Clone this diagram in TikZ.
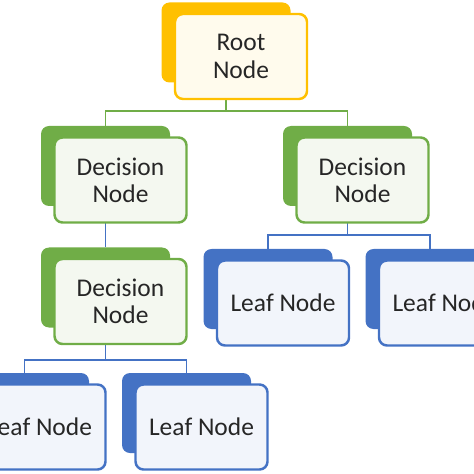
\documentclass[tikz,border=0pt]{standalone}
\usepackage{fontspec}
\setmainfont{Carlito}
\usepackage{tikz}
\usetikzlibrary{positioning}
\usetikzlibrary{backgrounds}

\definecolor{gold}{HTML}{FFC000}
\definecolor{leafgreen}{HTML}{70AD47}
\definecolor{leafblue}{HTML}{4472C4}
\definecolor{txtgray}{HTML}{262626}

\begin{document}
\begin{tikzpicture}[
    back/.style={
        rectangle,
        rounded corners=0.16cm,
        minimum width={2.58cm},
        minimum height={1.6cm},
        inner sep=0pt
    },
    front/.style={
        rectangle,
        rounded corners=0.16cm,
        line width=1.4pt,
        minimum width={2.64cm},
        minimum height={1.7cm},
        align=center,
        text=txtgray,
        font=\fontsize{14.5}{15.5}\selectfont
    },
    link/.style={line width=1.1pt}
]
\useasboundingbox (0,0) rectangle (9.48,-9.48);

\node [back, fill=gold] (r0) at (4.52, -0.85) {};
\node [front, draw=gold, fill=gold!7] (root) at ([xshift=0.3cm,yshift=-0.28cm]r0.center) {Root\\Node};

\node [back, fill=leafgreen] (dl0) at (2.11, -3.32) {};
\node [front, draw=leafgreen, fill=leafgreen!8] (decl) at ([xshift=0.3cm,yshift=-0.28cm]dl0.center) {Decision\\Node};
\node [back, fill=leafgreen] (dr0) at (6.95, -3.32) {};
\node [front, draw=leafgreen, fill=leafgreen!8] (decr) at ([xshift=0.3cm,yshift=-0.28cm]dr0.center) {Decision\\Node};
\node [back, fill=leafgreen] (dd0) at (2.11, -5.75) {};
\node [front, draw=leafgreen, fill=leafgreen!8] (decd) at ([xshift=0.3cm,yshift=-0.28cm]dd0.center) {Decision\\Node};

\node [back, fill=leafblue] (lr1) at (5.36, -5.78) {};
\node [front, draw=leafblue, fill=leafblue!7] (leafr1) at ([xshift=0.3cm,yshift=-0.28cm]lr1.center) {Leaf Node};
\node [back, fill=leafblue] (lr2) at (8.60, -5.78) {};
\node [front, draw=leafblue, fill=leafblue!7] (leafr2) at ([xshift=0.3cm,yshift=-0.28cm]lr2.center) {Leaf Node};

\node [back, fill=leafblue] (lb1) at (0.49, -8.26) {};
\node [front, draw=leafblue, fill=leafblue!7] (leafb1) at ([xshift=0.3cm,yshift=-0.28cm]lb1.center) {Leaf Node};
\node [back, fill=leafblue] (lb2) at (3.73, -8.26) {};
\node [front, draw=leafblue, fill=leafblue!7] (leafb2) at ([xshift=0.3cm,yshift=-0.28cm]lb2.center) {Leaf Node};

\begin{scope}[on background layer]
\draw[link, leafgreen] (r0.south) -- ++(0,-0.56) -| (dl0.north);
\draw[link, leafgreen] (r0.south) -- ++(0,-0.56) -| (dr0.north);

\draw[link, leafblue] (dl0.south) -- (dd0.north);

\draw[link, leafblue] (dr0.south) -- ++(0,-0.58) -| (lr1.north);
\draw[link, leafblue] (dr0.south) -- ++(0,-0.58) -| (lr2.north);

\draw[link, leafblue] (dd0.south) -- ++(0,-0.64) -| (lb1.north);
\draw[link, leafblue] (dd0.south) -- ++(0,-0.64) -| (lb2.north);
\end{scope}
\end{tikzpicture}
\end{document}
